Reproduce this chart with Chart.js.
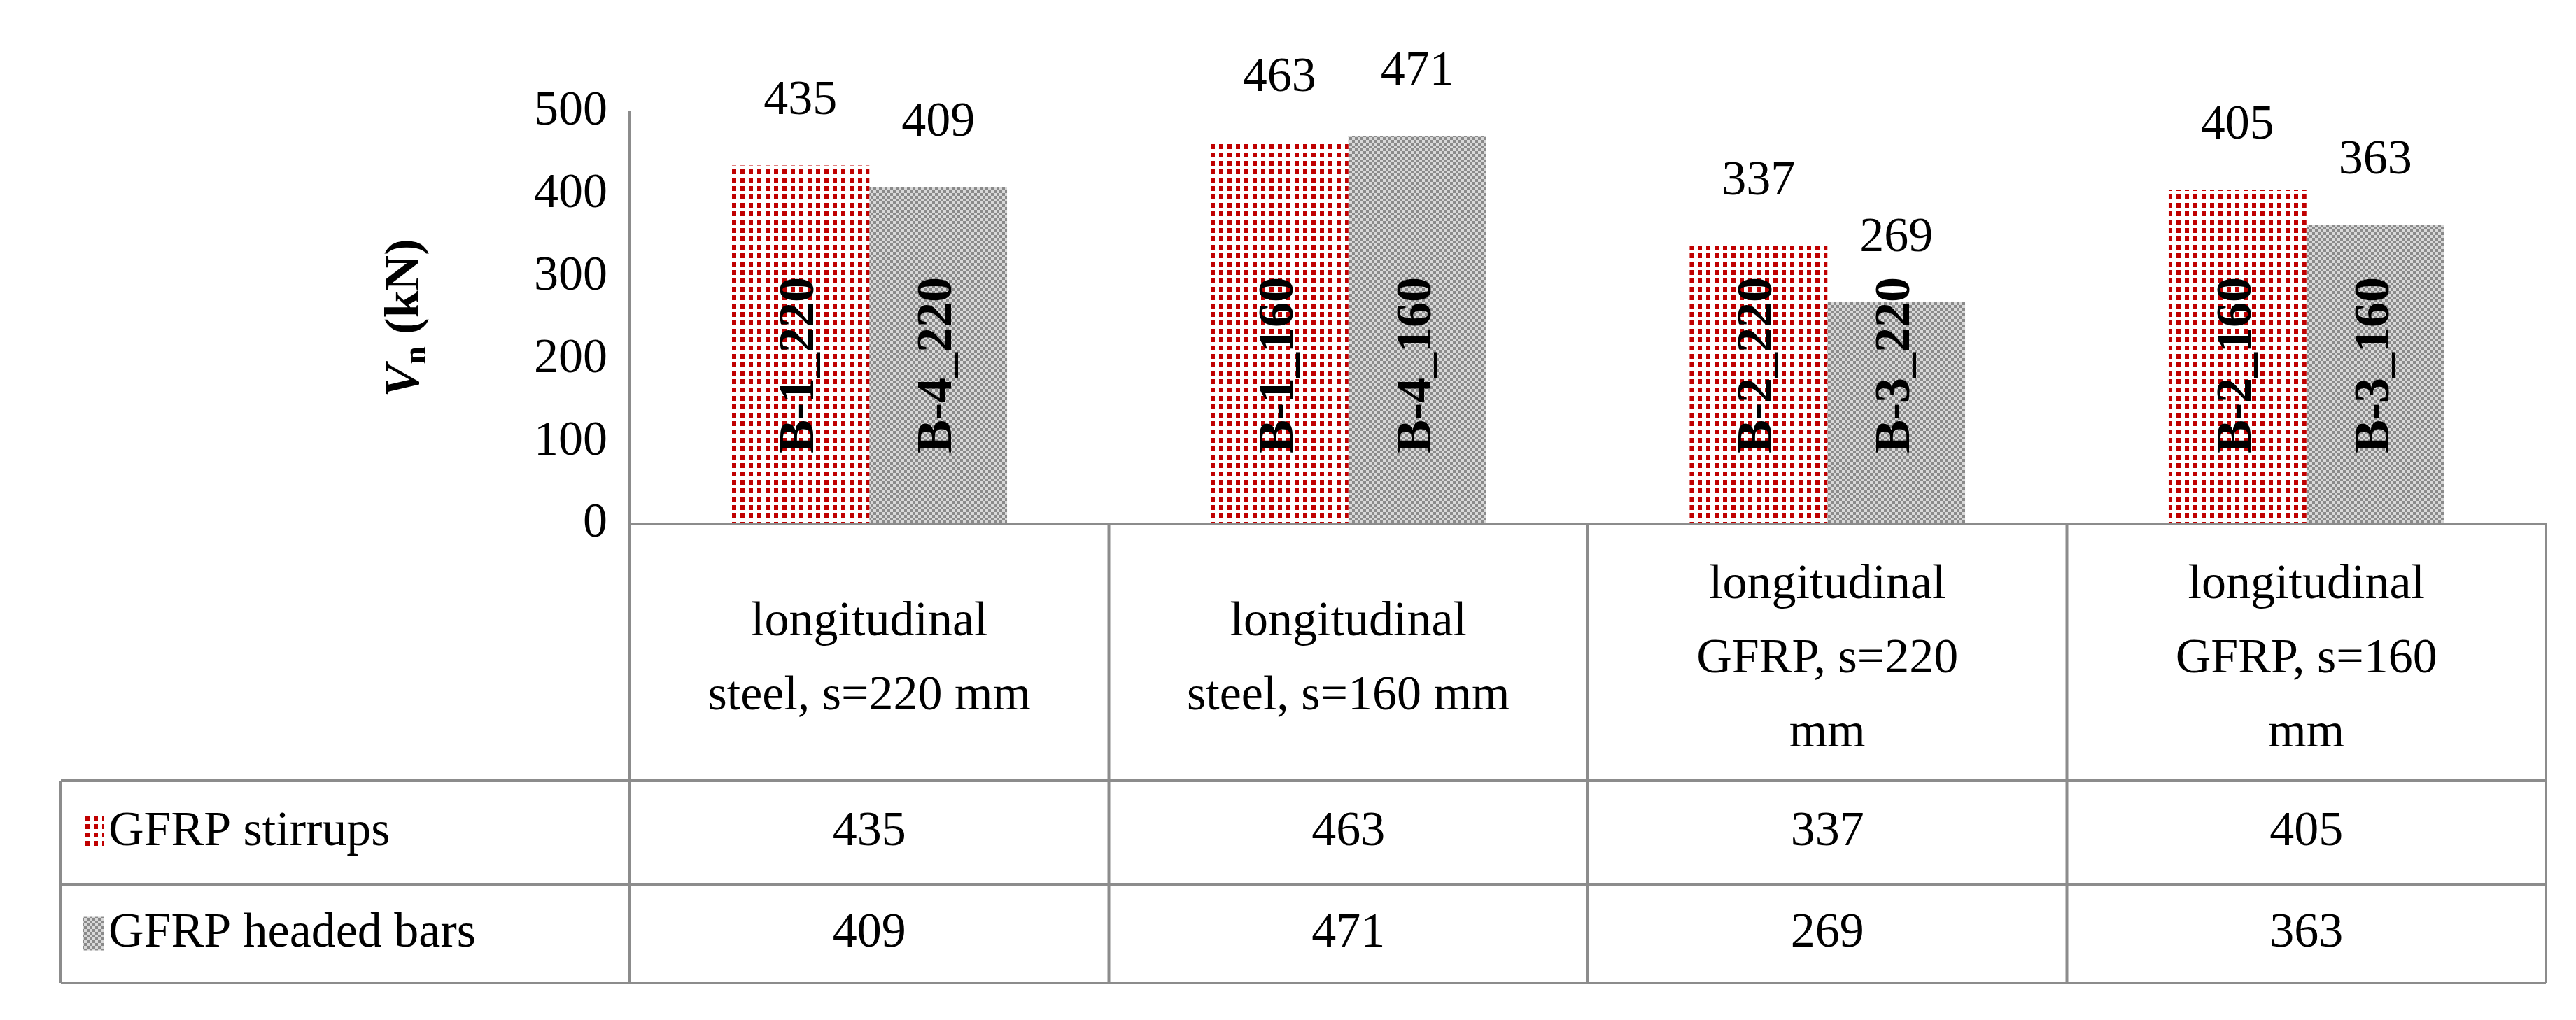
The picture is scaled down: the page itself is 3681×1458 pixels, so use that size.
<!DOCTYPE html>
<html>
<head>
<meta charset="utf-8">
<script src="https://cdn.jsdelivr.net/npm/chart.js@4.4.0/dist/chart.umd.min.js"></script>
<style>
  body { margin: 0; background: #fff; }
  #wrap { width: 3681px; height: 1458px; }
</style>
</head>
<body>
<div id="wrap"><canvas id="myChart" width="3681" height="1458"></canvas></div>
<script>
const categories = [
  ['longitudinal', 'steel, s=220 mm'],
  ['longitudinal', 'steel, s=160 mm'],
  ['longitudinal', 'GFRP, s=220', 'mm'],
  ['longitudinal', 'GFRP, s=160', 'mm']
];
const seriesNames = ['GFRP stirrups', 'GFRP headed bars'];
const stirrups = [435, 463, 337, 405];
const headed = [409, 471, 269, 363];
const stirrupLabels = ['B-1_220', 'B-1_160', 'B-2_220', 'B-2_160'];
const headedLabels = ['B-4_220', 'B-4_160', 'B-3_220', 'B-3_160'];
const yTicks = [0, 100, 200, 300, 400, 500];

const SERIF = '"Liberation Serif", "DejaVu Serif", serif';
const LINE = '#8c8c8c';
const FS = 70;

// dotted red pattern
function redPattern() {
  const c = document.createElement('canvas');
  c.width = 12; c.height = 12;
  const g = c.getContext('2d');
  g.fillStyle = '#fff'; g.fillRect(0, 0, 12, 12);
  g.fillStyle = '#c00000';
  g.fillRect(2, 2, 6, 7);
  return g.createPattern(c, 'repeat');
}
// grey checker pattern
function greyPattern() {
  const c = document.createElement('canvas');
  c.width = 8; c.height = 8;
  const g = c.getContext('2d');
  g.fillStyle = '#8a8a8a'; g.fillRect(0, 0, 8, 8);
  g.fillStyle = '#d8d8d8';
  g.fillRect(0, 0, 4, 4); g.fillRect(4, 4, 4, 4);
  return g.createPattern(c, 'repeat');
}
const fills = [redPattern(), greyPattern()];

const tablePlugin = {
  id: 'tablePlugin',
  afterDraw(chart) {
    const ctx = chart.ctx;
    const area = chart.chartArea;
    const x = chart.scales.x;
    const tLeft = 87;
    const rows = [area.bottom, 1116, 1264, 1405];
    const colW = (area.right - area.left) / categories.length;
    ctx.save();
    ctx.strokeStyle = LINE;
    ctx.lineWidth = 4;
    ctx.beginPath();
    ctx.moveTo(area.left, rows[0]); ctx.lineTo(area.right, rows[0]);
    for (let i = 1; i < rows.length; i++) { ctx.moveTo(tLeft, rows[i]); ctx.lineTo(area.right, rows[i]); }
    for (let i = 0; i <= categories.length; i++) {
      const vx = area.left + i * colW;
      ctx.moveTo(vx, rows[0]); ctx.lineTo(vx, rows[3]);
    }
    ctx.moveTo(tLeft, rows[1]); ctx.lineTo(tLeft, rows[3]);
    ctx.stroke();

    ctx.fillStyle = '#000';
    ctx.font = FS + 'px ' + SERIF;
    ctx.textAlign = 'center';
    ctx.textBaseline = 'middle';
    categories.forEach((lines, i) => {
      const cx = x.getPixelForValue(i);
      const lh = 106;
      const mid = (rows[0] + rows[1]) / 2 + 10;
      lines.forEach((t, j) => {
        ctx.fillText(t, cx, mid + (j - (lines.length - 1) / 2) * lh);
      });
    });
    const vals = [stirrups, headed];
    vals.forEach((arr, r) => {
      const cy = (rows[r + 1] + rows[r + 2]) / 2;
      ctx.textAlign = 'center';
      arr.forEach((v, i) => ctx.fillText(String(v), x.getPixelForValue(i), cy));
      ctx.fillStyle = fills[r];
      ctx.fillRect(118, cy - 24, 30, 48);
      ctx.fillStyle = '#000';
      ctx.textAlign = 'left';
      ctx.fillText(seriesNames[r], 155, cy);
    });

    [stirrupLabels, headedLabels].forEach((names, d) => {
      const meta = chart.getDatasetMeta(d);
      meta.data.forEach((bar, i) => {
        ctx.font = FS + 'px ' + SERIF;
        ctx.textAlign = 'center';
        ctx.textBaseline = 'middle';
        ctx.fillText(String(vals[d][i]), bar.x, bar.y - 92);
        ctx.save();
        ctx.translate(bar.x, 522);
        ctx.rotate(-Math.PI / 2);
        ctx.font = 'bold 72px ' + SERIF;
        ctx.fillText(names[i], 0, 0);
        ctx.restore();
      });
    });

    // y axis title
    ctx.save();
    ctx.translate(580, (area.top + area.bottom) / 2);
    ctx.rotate(-Math.PI / 2);
    ctx.textBaseline = 'middle';
    ctx.textAlign = 'left';
    ctx.font = 'bold italic 70px ' + SERIF;
    const w1 = ctx.measureText('V').width;
    ctx.font = 'bold 46px ' + SERIF;
    const w2 = ctx.measureText('n').width;
    ctx.font = 'bold 70px ' + SERIF;
    const w3 = ctx.measureText(' (kN)').width;
    let sx = -(w1 + w2 + w3) / 2;
    ctx.font = 'bold italic 70px ' + SERIF;
    ctx.fillText('V', sx, 0); sx += w1;
    ctx.font = 'bold 46px ' + SERIF;
    ctx.fillText('n', sx, 16); sx += w2;
    ctx.font = 'bold 70px ' + SERIF;
    ctx.fillText(' (kN)', sx, 0);
    ctx.restore();
    ctx.restore();
  }
};

new Chart(document.getElementById('myChart'), {
  type: 'bar',
  data: {
    labels: categories.map(c => c.join(' ')),
    datasets: [
      { label: seriesNames[0], data: stirrups, backgroundColor: fills[0], categoryPercentage: 0.575, barPercentage: 1 },
      { label: seriesNames[1], data: headed, backgroundColor: fills[1], categoryPercentage: 0.575, barPercentage: 1 }
    ]
  },
  options: {
    responsive: false,
    animation: false,
    devicePixelRatio: 1,
    layout: { padding: { top: 160, right: 43, bottom: 701, left: 0 } },
    plugins: { legend: { display: false }, tooltip: { enabled: false } },
    scales: {
      x: {
        ticks: { display: false },
        grid: { display: false },
        border: { color: LINE, width: 4 }
      },
      y: {
        min: 0, max: 500,
        afterFit(scale) { scale.width = 900; },
        afterBuildTicks(scale) { scale.ticks = yTicks.map(v => ({ value: v })); },
        ticks: { color: '#000', font: { family: SERIF, size: FS }, padding: 24 },
        grid: { display: false },
        border: { color: LINE, width: 4 }
      }
    }
  },
  plugins: [tablePlugin]
});
</script>
</body>
</html>
